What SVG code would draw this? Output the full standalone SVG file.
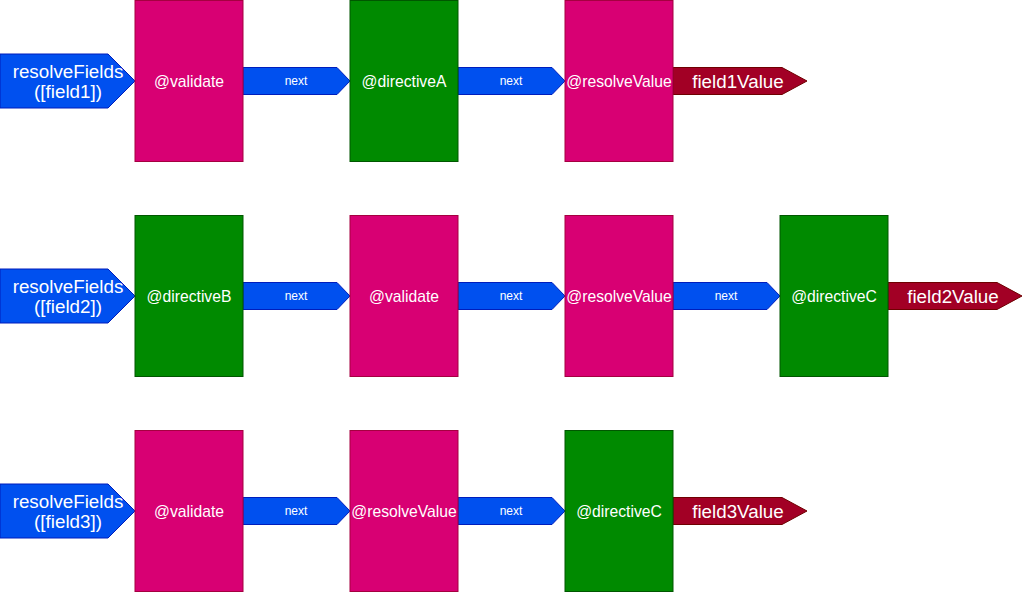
<svg xmlns="http://www.w3.org/2000/svg" width="1023" height="593" viewBox="0 0 1023 593">
<style>
text{font-family:"Liberation Sans",Arial,sans-serif;fill:#fff;text-anchor:middle;dominant-baseline:central}
.pink{fill:#d80073;stroke:#a50040}
.green{fill:#008a00;stroke:#005700}
.blue{fill:#0050ef;stroke:#001dbc}
.red{fill:#a20025;stroke:#6f0000}
.lbl{font-size:15.7px}
.nx{font-size:12px}
.big{font-size:18.8px}
</style>
<defs>
<polygon id="inArrow" points="0,-27 108,-27 135,0 108,27 0,27"/>
<polygon id="nextArrow" points="0,-13.5 94,-13.5 107,0 94,13.5 0,13.5"/>
<polygon id="outArrow" points="0,-13.5 109,-13.5 134,0 109,13.5 0,13.5"/>
</defs>
<g id="connectors">
<g transform="translate(0,81)"><use href="#inArrow" class="blue"/><text x="68" y="-10" class="big">resolveFields</text><text x="68" y="10" class="big">([field1])</text></g>
<g transform="translate(243,81)"><use href="#nextArrow" class="blue"/><text x="53" y="0" class="nx">next</text></g>
<g transform="translate(458,81)"><use href="#nextArrow" class="blue"/><text x="53" y="0" class="nx">next</text></g>
<g transform="translate(673,81)"><use href="#outArrow" class="red"/><text x="65" y="0" class="big">field1Value</text></g>

<g transform="translate(0,296)"><use href="#inArrow" class="blue"/><text x="68" y="-10" class="big">resolveFields</text><text x="68" y="10" class="big">([field2])</text></g>
<g transform="translate(243,296)"><use href="#nextArrow" class="blue"/><text x="53" y="0" class="nx">next</text></g>
<g transform="translate(458,296)"><use href="#nextArrow" class="blue"/><text x="53" y="0" class="nx">next</text></g>
<g transform="translate(673,296)"><use href="#nextArrow" class="blue"/><text x="53" y="0" class="nx">next</text></g>
<g transform="translate(888,296)"><use href="#outArrow" class="red"/><text x="65" y="0" class="big">field2Value</text></g>

<g transform="translate(0,511)"><use href="#inArrow" class="blue"/><text x="68" y="-10" class="big">resolveFields</text><text x="68" y="10" class="big">([field3])</text></g>
<g transform="translate(243,511)"><use href="#nextArrow" class="blue"/><text x="53" y="0" class="nx">next</text></g>
<g transform="translate(458,511)"><use href="#nextArrow" class="blue"/><text x="53" y="0" class="nx">next</text></g>
<g transform="translate(673,511)"><use href="#outArrow" class="red"/><text x="65" y="0" class="big">field3Value</text></g>
</g>

<g id="r1-validate"><rect x="135" y="0.5" width="108" height="161" class="pink"/><text x="189" y="81" class="lbl">@validate</text></g>
<g id="r1-directiveA"><rect x="350" y="0.5" width="108" height="161" class="green"/><text x="404" y="81" class="lbl">@directiveA</text></g>
<g id="r1-resolveValue"><rect x="565" y="0.5" width="108" height="161" class="pink"/><text x="619" y="81" class="lbl">@resolveValue</text></g>

<g id="r2-directiveB"><rect x="135" y="215.5" width="108" height="161" class="green"/><text x="189" y="296" class="lbl">@directiveB</text></g>
<g id="r2-validate"><rect x="350" y="215.5" width="108" height="161" class="pink"/><text x="404" y="296" class="lbl">@validate</text></g>
<g id="r2-resolveValue"><rect x="565" y="215.5" width="108" height="161" class="pink"/><text x="619" y="296" class="lbl">@resolveValue</text></g>
<g id="r2-directiveC"><rect x="780" y="215.5" width="108" height="161" class="green"/><text x="834" y="296" class="lbl">@directiveC</text></g>

<g id="r3-validate"><rect x="135" y="430.5" width="108" height="161" class="pink"/><text x="189" y="511" class="lbl">@validate</text></g>
<g id="r3-resolveValue"><rect x="350" y="430.5" width="108" height="161" class="pink"/><text x="404" y="511" class="lbl">@resolveValue</text></g>
<g id="r3-directiveC"><rect x="565" y="430.5" width="108" height="161" class="green"/><text x="619" y="511" class="lbl">@directiveC</text></g>
</svg>
